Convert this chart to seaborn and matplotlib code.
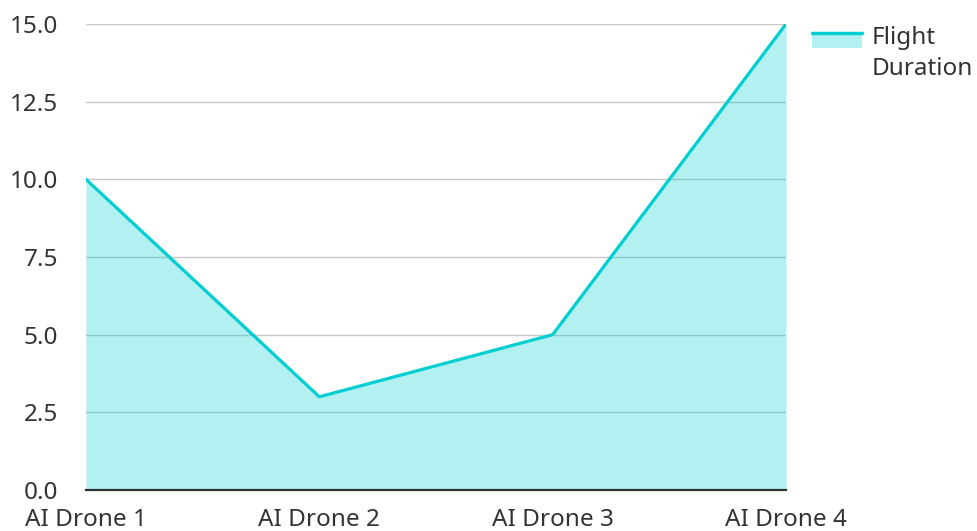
import matplotlib
matplotlib.use("Agg")
import matplotlib.pyplot as plt
import seaborn as sns
import pandas as pd
from matplotlib.patches import Rectangle
from matplotlib.lines import Line2D
from matplotlib.legend_handler import HandlerBase

# data
drones = ["AI Drone 1", "AI Drone 2", "AI Drone 3", "AI Drone 4"]
flight_duration = [10, 3, 5, 15]
y_ticks = [0, 2.5, 5, 7.5, 10, 12.5, 15]

LINE = "#00CED1"
TEXT = "#333333"
FS = 17.5

df = pd.DataFrame({"drone": drones, "duration": flight_duration})
df["pos"] = range(len(drones))

sns.set_style("white")
plt.rcParams["font.family"] = ["Noto Sans", "DejaVu Sans"]


class AreaHandler(HandlerBase):
    # filled box with the line along its top edge, level with the first text line
    def create_artists(self, legend, orig, xd, yd, w, h, fontsize, trans):
        top = yd + h * 0.95 + 9.4
        bottom = top - 10.8
        rect = Rectangle((xd, bottom), w, top - bottom, facecolor=LINE, alpha=0.3,
                         edgecolor="none", transform=trans)
        line = Line2D([xd, xd + w], [top, top], color=LINE, lw=2.5, transform=trans)
        return [rect, line]


fig = plt.figure(figsize=(9.77, 5.31), dpi=100)
ax = fig.add_axes([0.088, 0.0772, 0.7165, 0.8776])

ax.grid(axis="y", color="#c8c8c8", lw=1, zorder=0)
ax.set_axisbelow(True)

ax.fill_between(df["pos"], df["duration"], color=LINE, alpha=0.3, lw=0, zorder=1)
sns.lineplot(data=df, x="pos", y="duration", color=LINE, lw=2.3, ax=ax, zorder=3)

ax.set_xlim(0, 3)
ax.set_ylim(0, 15)
ax.set_xticks(df["pos"])
ax.set_xticklabels(drones)
ax.set_yticks(y_ticks)
ax.set_yticklabels([f"{v:.1f}" for v in y_ticks])
ax.set_xlabel("")
ax.set_ylabel("")

for s in ["left", "right", "top"]:
    ax.spines[s].set_visible(False)
ax.spines["bottom"].set_color(TEXT)
ax.spines["bottom"].set_linewidth(1.6)
ax.spines["bottom"].set_zorder(4)

ax.tick_params(axis="y", length=0, pad=20, labelsize=FS, labelcolor=TEXT)
ax.tick_params(axis="x", length=0, pad=13, labelsize=FS, labelcolor=TEXT)

leg = ax.legend([object()], ["Flight\nDuration"], handler_map={object: AreaHandler()},
                loc="upper left", bbox_to_anchor=(1.037, 0.995), frameon=False,
                fontsize=FS, labelcolor=TEXT, handlelength=2.06, handletextpad=0.41,
                borderpad=0, borderaxespad=0)
for t in leg.get_texts():
    t.set_linespacing(1.36)

fig.savefig("out.png", dpi=100)
